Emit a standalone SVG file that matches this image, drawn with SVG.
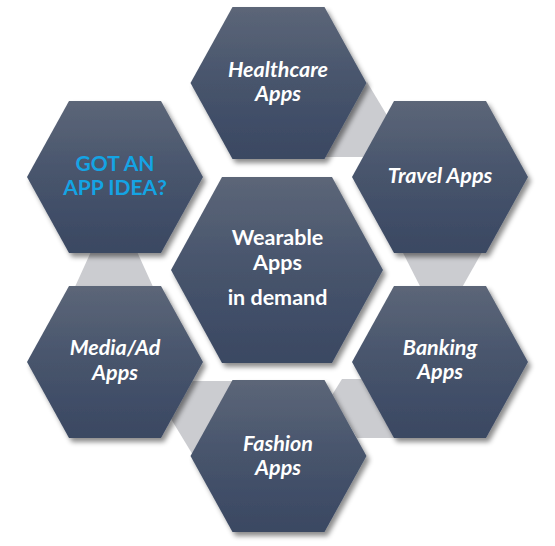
<svg xmlns="http://www.w3.org/2000/svg" width="555" height="546" viewBox="0 0 555 546">
  <defs>
    <linearGradient id="hexGrad" x1="0" y1="0" x2="0" y2="1">
      <stop offset="0" stop-color="#5c6678"/>
      <stop offset="0.5" stop-color="#47546c"/>
      <stop offset="1" stop-color="#3a4862"/>
    </linearGradient>
    <filter id="shadow" x="-20%" y="-20%" width="140%" height="140%">
      <feDropShadow dx="3" dy="4" stdDeviation="2.5" flood-color="#000" flood-opacity="0.45"/>
    </filter>
    <polygon id="hex" points="-46,-76 46,-76 88,0 46,76 -46,76 -88,0"/>
    <polygon id="hexBig" points="-55,-93 55,-93 106,0 55,93 -55,93 -106,0"/>
  </defs>
  <style>
    .hex { fill: url(#hexGrad); filter: url(#shadow); }
    .conn { fill: #cbccd0; stroke: none; }
    .lbl { font-family: Lato, "Liberation Sans", sans-serif; font-size: 21.5px; font-weight: bold; font-style: italic; fill: #ffffff; text-anchor: middle; }
    .ctr { font-family: Lato, "Liberation Sans", sans-serif; font-size: 21.5px; font-weight: bold; fill: #ffffff; text-anchor: middle; }
    .idea { font-family: Lato, "Liberation Sans", sans-serif; font-size: 21px; font-weight: bold; fill: #14a4e4; text-anchor: middle; }
  </style>
  <rect width="555" height="546" fill="#ffffff"/>

  <g id="connectors">
    <polygon class="conn" points="367,82 412,157 320,157"/>
    <polygon class="conn" points="399,245 486,245 455,300 427,300"/>
    <polygon class="conn" points="342,379 332,395 357,438 400,438 400,379"/>
    <polygon class="conn" points="148,381 236,381 236,470 202,470"/>
    <polygon class="conn" points="94,245 134,245 159,300 69,300"/>
  </g>

  <g id="healthcare">
    <use href="#hex" class="hex" x="278.5" y="83"/>
    <text class="lbl" x="278" y="77">Healthcare</text>
    <text class="lbl" x="278" y="101">Apps</text>
  </g>
  <g id="travel">
    <use href="#hex" class="hex" x="440" y="177"/>
    <text class="lbl" x="440" y="183">Travel Apps</text>
  </g>
  <g id="banking">
    <use href="#hex" class="hex" x="440" y="362"/>
    <text class="lbl" x="440" y="355">Banking</text>
    <text class="lbl" x="440" y="379">Apps</text>
  </g>
  <g id="fashion">
    <use href="#hex" class="hex" x="278.5" y="456"/>
    <text class="lbl" x="278" y="451">Fashion</text>
    <text class="lbl" x="278" y="475">Apps</text>
  </g>
  <g id="media">
    <use href="#hex" class="hex" x="115" y="362"/>
    <text class="lbl" x="115" y="355">Media/Ad</text>
    <text class="lbl" x="115" y="380">Apps</text>
  </g>
  <g id="idea">
    <use href="#hex" class="hex" x="115" y="177"/>
    <text class="idea" x="115" y="171">GOT AN</text>
    <text class="idea" x="115" y="195">APP IDEA?</text>
  </g>
  <g id="center">
    <use href="#hexBig" class="hex" x="277" y="270"/>
    <text class="ctr" x="277.5" y="245">Wearable</text>
    <text class="ctr" x="277.5" y="270">Apps</text>
    <text class="ctr" x="277.5" y="305">in demand</text>
  </g>
</svg>
